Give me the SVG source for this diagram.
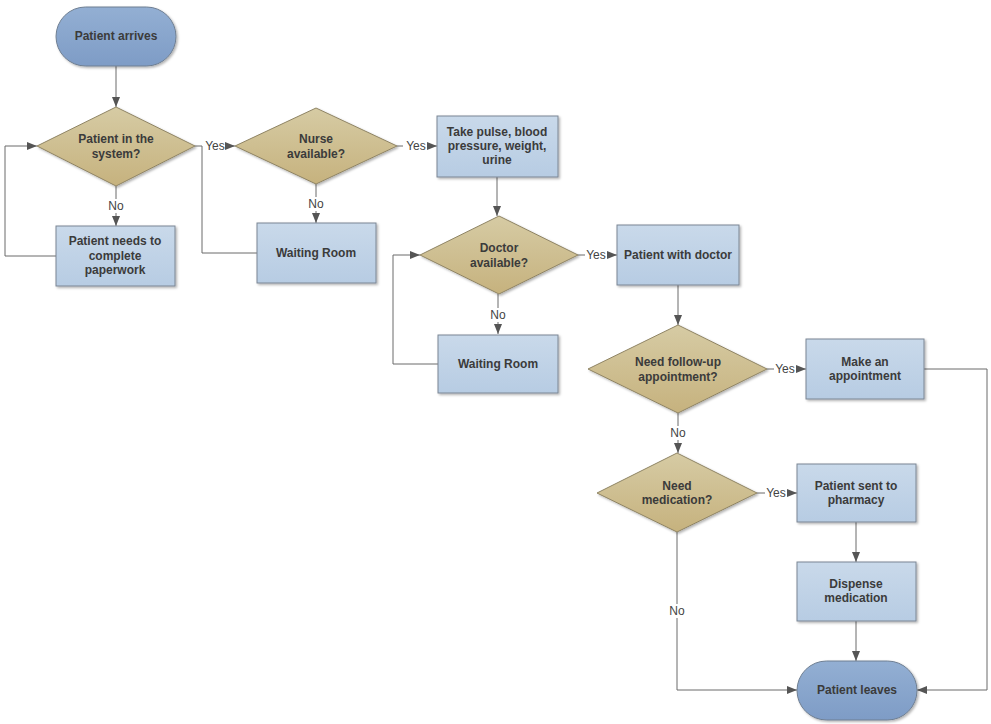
<svg xmlns="http://www.w3.org/2000/svg" width="991" height="724" viewBox="0 0 991 724">
<defs>
<linearGradient id="gTerm" x1="0" y1="0" x2="0" y2="1"><stop offset="0" stop-color="#93afd3"/><stop offset="1" stop-color="#7e9cc6"/></linearGradient>
<linearGradient id="gBox" x1="0" y1="0" x2="0" y2="1"><stop offset="0" stop-color="#c9d9ea"/><stop offset="1" stop-color="#b7cce3"/></linearGradient>
<linearGradient id="gDia" x1="0" y1="0" x2="0" y2="1"><stop offset="0" stop-color="#d6cba4"/><stop offset="1" stop-color="#c6b27e"/></linearGradient>
<filter id="sh" x="-10%" y="-10%" width="125%" height="130%"><feDropShadow dx="1.5" dy="1.5" stdDeviation="1.2" flood-color="#000" flood-opacity="0.3"/></filter>
<marker id="ah" viewBox="0 0 10 10" refX="10" refY="5" markerWidth="10" markerHeight="10" markerUnits="userSpaceOnUse" orient="auto"><path d="M0,1 L10,5 L0,9 Z" fill="#555"/></marker>
</defs>
<style>
.term{fill:url(#gTerm);stroke:#6f7f92;stroke-width:1;filter:url(#sh)}
.box{fill:url(#gBox);stroke:#7b8693;stroke-width:1;filter:url(#sh)}
.dia{fill:url(#gDia);stroke:#8f8464;stroke-width:1;filter:url(#sh)}
.t{font-family:"Liberation Sans",Arial,sans-serif;font-size:12px;font-weight:bold;fill:#3b3b3b;text-anchor:middle}
.l{font-family:"Liberation Sans",Arial,sans-serif;font-size:12px;fill:#444;text-anchor:middle}
.c{fill:none;stroke:#6a6a6a;stroke-width:1}
.ca{fill:none;stroke:#6a6a6a;stroke-width:1;marker-end:url(#ah)}
</style>
<rect width="991" height="724" fill="#fff"/>
<g id="connectors">
<path class="ca" d="M116,66 V107"/>
<path class="ca" d="M116,186 V226"/>
<path class="ca" d="M56,256 H5 V146 H37"/>
<path class="c" d="M195,146 H202"/>
<path class="ca" d="M226,146 H235"/>
<path class="c" d="M202,146 V253 H257"/>
<path class="ca" d="M316,184 V223"/>
<path class="c" d="M397,146 H403"/>
<path class="ca" d="M427,146 H437"/>
<path class="ca" d="M497,177 V216"/>
<path class="c" d="M578,255 H585"/>
<path class="ca" d="M607,255 H617"/>
<path class="ca" d="M498,294 V334"/>
<path class="ca" d="M438,364 H393 V255 H420"/>
<path class="ca" d="M678,285 V325"/>
<path class="c" d="M767,369 H774"/>
<path class="ca" d="M796,369 H806"/>
<path class="ca" d="M678,413 V453"/>
<path class="c" d="M924,369 H987 V690"/>
<path class="ca" d="M987,690 H917"/>
<path class="c" d="M757,493 H765"/>
<path class="ca" d="M787,493 H797"/>
<path class="ca" d="M856,522 V562"/>
<path class="ca" d="M856,621 V661"/>
<path class="c" d="M677,532 V690"/>
<path class="ca" d="M677,690 H797"/>
<rect x="105" y="199" width="22" height="14" fill="#fff"/>
<text class="l" x="116" y="210">No</text>
<text class="l" x="215" y="150">Yes</text>
<rect x="305" y="197" width="22" height="14" fill="#fff"/>
<text class="l" x="316" y="208">No</text>
<text class="l" x="416" y="150">Yes</text>
<text class="l" x="596" y="259">Yes</text>
<rect x="487" y="308" width="22" height="14" fill="#fff"/>
<text class="l" x="498" y="319">No</text>
<text class="l" x="785" y="373">Yes</text>
<rect x="667" y="426" width="22" height="14" fill="#fff"/>
<text class="l" x="678" y="437">No</text>
<text class="l" x="776" y="497">Yes</text>
<rect x="666" y="604" width="22" height="14" fill="#fff"/>
<text class="l" x="677" y="615">No</text>
</g>
<g id="n-arrives"><rect class="term" x="56" y="7" width="120" height="59" rx="29.5"/><text class="t" x="116" y="40">Patient arrives</text></g>
<g id="n-insystem"><polygon class="dia" points="116,107 195,146 116,186 37,146"/><text class="t" x="116" y="143">Patient in the</text><text class="t" x="116" y="158">system?</text></g>
<g id="n-paperwork"><rect class="box" x="56" y="226" width="119" height="60"/><text class="t" x="115" y="245">Patient needs to</text><text class="t" x="115" y="260">complete</text><text class="t" x="115" y="274">paperwork</text></g>
<g id="n-nurse"><polygon class="dia" points="316,108 397,146 316,184 235,146"/><text class="t" x="316" y="143">Nurse</text><text class="t" x="316" y="158">available?</text></g>
<g id="n-wait1"><rect class="box" x="257" y="223" width="119" height="60"/><text class="t" x="316" y="257">Waiting Room</text></g>
<g id="n-vitals"><rect class="box" x="437" y="116" width="121" height="61"/><text class="t" x="497" y="136">Take pulse, blood</text><text class="t" x="497" y="150">pressure, weight,</text><text class="t" x="497" y="164">urine</text></g>
<g id="n-doctor"><polygon class="dia" points="499,216 578,255 499,294 420,255"/><text class="t" x="499" y="252">Doctor</text><text class="t" x="499" y="267">available?</text></g>
<g id="n-withdoctor"><rect class="box" x="617" y="225" width="122" height="60"/><text class="t" x="678" y="259">Patient with doctor</text></g>
<g id="n-wait2"><rect class="box" x="438" y="335" width="120" height="58"/><text class="t" x="498" y="368">Waiting Room</text></g>
<g id="n-followup"><polygon class="dia" points="678,325 767,369 678,413 588,369"/><text class="t" x="678" y="366">Need follow-up</text><text class="t" x="678" y="381">appointment?</text></g>
<g id="n-appointment"><rect class="box" x="806" y="339" width="118" height="60"/><text class="t" x="865" y="366">Make an</text><text class="t" x="865" y="380">appointment</text></g>
<g id="n-medication"><polygon class="dia" points="677,453 757,493 677,532 597,493"/><text class="t" x="677" y="490">Need</text><text class="t" x="677" y="504">medication?</text></g>
<g id="n-pharmacy"><rect class="box" x="797" y="464" width="119" height="58"/><text class="t" x="856" y="490">Patient sent to</text><text class="t" x="856" y="504">pharmacy</text></g>
<g id="n-dispense"><rect class="box" x="797" y="562" width="119" height="59"/><text class="t" x="856" y="588">Dispense</text><text class="t" x="856" y="602">medication</text></g>
<g id="n-leaves"><rect class="term" x="797" y="661" width="120" height="59" rx="29.5"/><text class="t" x="857" y="694">Patient leaves</text></g>
</svg>
